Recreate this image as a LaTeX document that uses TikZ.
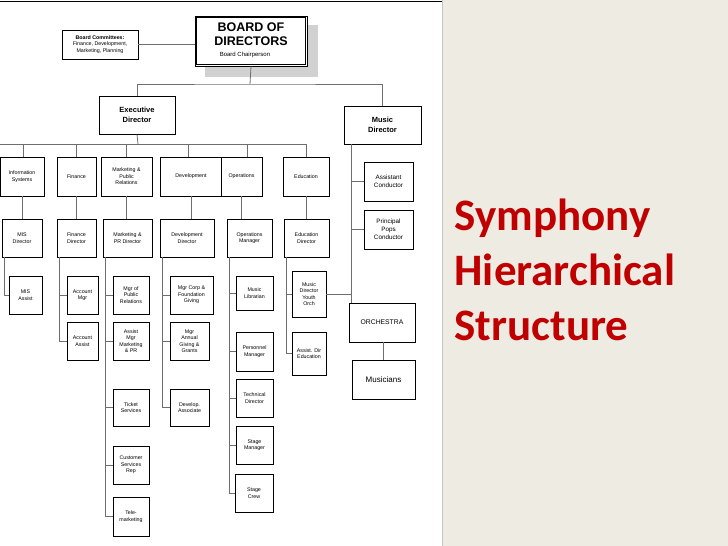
\documentclass[tikz,border=0pt]{standalone}
\usepackage{fontspec}
\setmainfont{Liberation Sans}
\newfontfamily\titlefont{Carlito}
\definecolor{bg}{HTML}{EEEBE3}
\definecolor{ttl}{HTML}{C00000}
\definecolor{ln}{HTML}{6E6E6E}
\tikzset{bx/.style={draw=black,line width=0.6pt,fill=white,inner sep=0pt,align=center,font=\fontsize{5.3}{6.4}\selectfont},
 cn/.style={draw=ln,line width=0.8pt},
 big/.style={font=\fontsize{7.5}{10}\selectfont\bfseries}}
\newcommand{\bx}[7][]{\node[bx,#1,minimum width={#5-#3},minimum height={#6-#4}] (#2) at ({(#3+#5)/2},{(#4+#6)/2}) {#7};}
\begin{document}
\begin{tikzpicture}[x=1pt,y=-1pt]
\useasboundingbox (0,0) rectangle (728,546);
\fill[bg] (442,0) rectangle (728,546);
\draw[line width=1pt] (0,1) -- (442,1);
\draw[ln!40,line width=0.5pt] (442,0) -- (442,546);
% board
\fill[black!18] (205,25) rectangle (318,77);
\node[draw=black,line width=0.9pt,fill=white,minimum width=112,minimum height=50,inner sep=0pt] (board) at (251,41) {};
\draw[line width=0.6pt] ([shift={(2pt,2pt)}]board.south west) rectangle ([shift={(-2pt,-2pt)}]board.north east);
\node[font=\bfseries\fontsize{12.5}{14}\selectfont,align=center] at (251,34) {BOARD OF\\DIRECTORS};
\node[font=\fontsize{6}{7}\selectfont] at (245,55) {Board Chairperson};
\bx{comm}{62}{30}{138}{59}{\textbf{Board Committees:}\\Finance, Development,\\Marketing, Planning}
\draw[cn] (comm.east) -- (comm.east -| board.west);
\bx[big]{exec}{99}{96}{175}{134}{Executive\\Director}
\bx[big]{music}{344}{106}{421}{144}{Music\\Director}
\coordinate (bj) at (250,84);
\draw[cn] (board.south) -- (bj);
\draw[cn] (exec.north) |- (bj) -| (music.north);
% row 1
\bx{is}{0}{157}{44}{196}{Information\\Systems}
\bx{fin}{57}{157}{96}{196}{Finance}
\bx{mkt}{101}{157}{152}{196}{Marketing \&\\Public\\Relations}
\bx{dev}{160}{157}{222}{196}{Development}
\bx{ops}{221}{157}{262}{196}{Operations}
\bx{edu}{283}{157}{329}{196}{Education}
\coordinate (ej) at (138,144);
\draw[cn] (exec.south) -- (ej);
\draw[cn] (0,144) -- (306,144);
\foreach \n/\xx in {is/23,fin/76,mkt/126,dev/188,ops/247,edu/306} {\draw[cn] (\xx,144) -- (\n.north -| \xx,0);}
% row 2
\bx{mis}{2}{219}{42}{257}{MIS\\Director}
\bx{find}{57}{219}{96}{257}{Finance\\Director}
\bx{mktd}{103}{219}{152}{257}{Marketing \&\\PR Director}
\bx{devd}{160}{219}{214}{257}{Development\\Director}
\bx{opsm}{227}{219}{272}{257}{Operations\\Manager}
\bx{edud}{284}{219}{329}{257}{Education\\Director}
\foreach \a/\b in {is/mis,fin/find,mkt/mktd,dev/devd,ops/opsm,edu/edud} {\draw[cn] (\a.south) -- (\a.south |- \b.north);}
% level 3
\bx{misa}{9}{276}{42}{314}{MIS\\Assist}
\bx{acm}{67}{276}{98}{314}{Account\\Mgr}
\bx{aca}{67}{322}{98}{360}{Account\\Assist}
\bx{mpr}{113}{276}{149}{314}{Mgr of\\Public\\Relations}
\bx{amm}{113}{322}{149}{360}{Assist\\Mgr\\Marketing\\\& PR}
\bx{tick}{113}{389}{149}{426}{Ticket\\Services}
\bx{csr}{113}{446}{149}{484}{Customer\\Services\\Rep}
\bx{tele}{113}{497}{149}{536}{Tele-\\marketing}
\bx{mcf}{170}{276}{213}{314}{Mgr Corp \&\\Foundation\\Giving}
\bx{mag}{170}{322}{209}{360}{Mgr\\Annual\\Giving \&\\Grants}
\bx{deva}{170}{389}{209}{426}{Develop.\\Associate}
\bx{mlib}{236}{276}{273}{310}{Music\\Librarian}
\bx{pers}{236}{332}{273}{371}{Personnel\\Manager}
\bx{tech}{236}{379}{273}{417}{Technical\\Director}
\bx{stm}{236}{426}{273}{464}{Stage\\Manager}
\bx{stc}{235}{474}{273}{512}{Stage\\Crew}
\bx{myo}{292}{271}{326}{317}{Music\\Director\\Youth\\Orch}
\bx{ade}{292}{332}{326}{375}{Assist. Dir\\Education}
\foreach \p/\c in {mis/misa,find/acm,find/aca,mktd/mpr,mktd/amm,mktd/tick,mktd/csr,mktd/tele,devd/mcf,devd/mag,devd/deva,opsm/mlib,opsm/pers,opsm/tech,opsm/stm,opsm/stc,edud/myo,edud/ade}
  {\draw[cn] ([xshift=2.5pt]\p.south west) |- (\c.west);}
% music side
\bx[font=\fontsize{6.3}{7.8}\selectfont]{asst}{364}{162}{413}{201}{Assistant\\Conductor}
\bx[font=\fontsize{6.3}{7.8}\selectfont]{pops}{364}{210}{413}{249}{Principal\\Pops\\Conductor}
\bx[font=\fontsize{6.8}{8}\selectfont]{orch}{349}{303}{415}{342}{ORCHESTRA}
\bx[font=\fontsize{8}{9}\selectfont]{mus}{352}{360}{415}{399}{Musicians}
\coordinate (ms) at (351,144);
\draw[cn] (ms) -- (ms |- orch.north);
\draw[cn] (asst.west) -- (asst.west -| ms);
\draw[cn] (pops.west) -- (pops.west -| ms);
\draw[cn] (myo.east) -- (myo.east -| ms);
\draw[cn,line width=1.2pt] (mus.north |- orch.south) -- (mus.north);
% title
\node[anchor=west,text=ttl,font=\titlefont\bfseries\fontsize{45}{55}\selectfont,align=left] at (451,270) {Symphony\\Hierarchical\\Structure};
\end{tikzpicture}
\end{document}
